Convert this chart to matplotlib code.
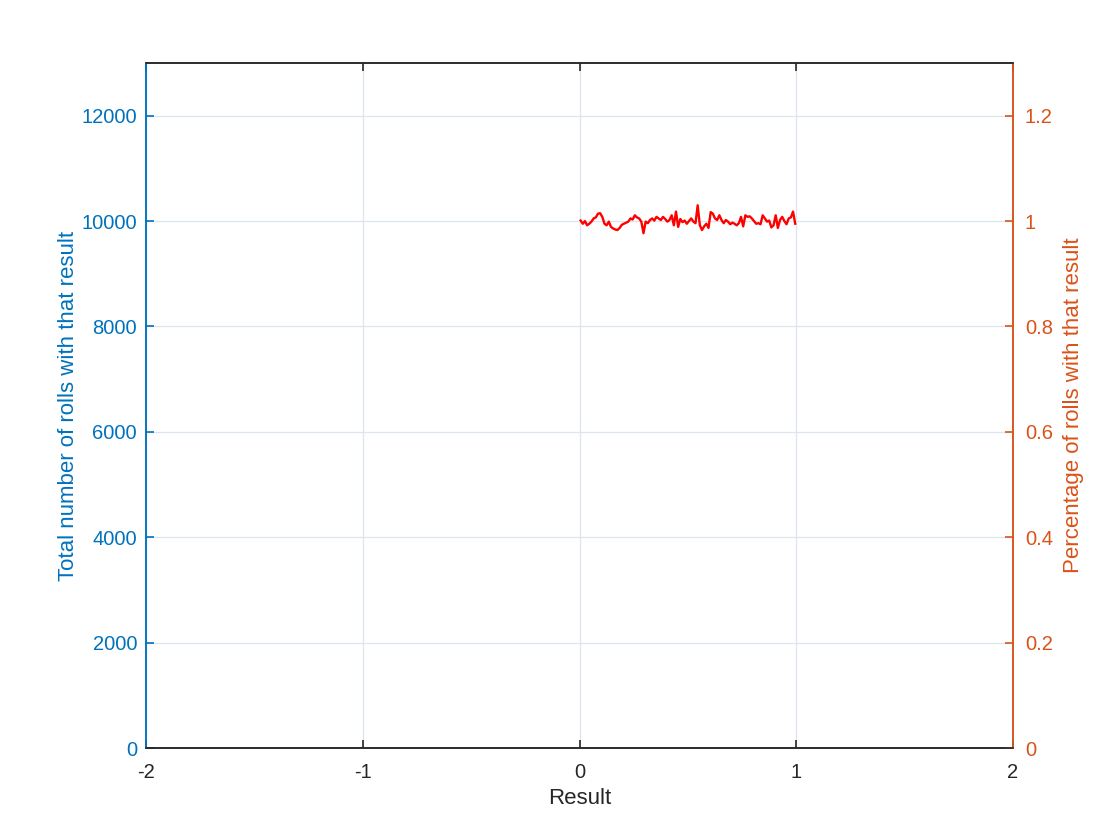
import numpy as np
from matplotlib import pyplot as plt

plt.rcParams['font.family'] = ['Liberation Sans', 'DejaVu Sans']

BLUE = '#0072BD'
ORANGE = '#D95319'

# bin centres of the histogram of results (100 bins on [0, 1])
result = np.linspace(0.005, 0.995, 100)

# number of rolls in each bin
counts = [
    10010, 9950, 10000, 9920, 9950, 9990, 10050, 10070, 10140, 10150,
    10080, 9950, 9920, 9990, 9890, 9860, 9840, 9830, 9870, 9930,
    9950, 9970, 9990, 10050, 10030, 10110, 10070, 10050, 9990, 9770,
    9990, 9960, 10020, 10050, 10010, 10080, 10050, 10020, 10080, 10040,
    9990, 10020, 10110, 9920, 10180, 9890, 10040, 9980, 10010, 9950,
    10000, 10050, 9990, 9960, 10300, 9920, 9830, 9900, 9950, 9870,
    10170, 10140, 10050, 10020, 10110, 10020, 9960, 10020, 9990, 9940,
    9970, 9950, 9920, 9960, 10080, 9900, 10110, 10080, 10090, 10050,
    10000, 9950, 9960, 9940, 10110, 10050, 9990, 10010, 9880, 9920,
    10110, 9870, 10020, 10080, 10000, 9940, 10050, 10070, 10180, 9950,
]

x_ticks = [-2, -1, 0, 1, 2]
left_ticks = [0, 2000, 4000, 6000, 8000, 10000, 12000]
right_ticks = [0, 0.2, 0.4, 0.6, 0.8, 1, 1.2]
right_labels = ['0', '0.2', '0.4', '0.6', '0.8', '1', '1.2']


def main():
    fig = plt.figure(figsize=(11.2, 8.4), dpi=100)
    ax = fig.add_axes([0.1304, 0.1095, 0.7741, 0.8155])
    ax2 = ax.twinx()

    ax.plot(result, counts, c='#ff0000', lw=1.7, zorder=3)

    ax.set_xlim(-2, 2)
    ax.set_ylim(0, 13000)
    ax2.set_ylim(0, 1.3)
    ax.set_xticks(x_ticks)
    ax.set_xticklabels([str(t) for t in x_ticks])
    ax.set_yticks(left_ticks)
    ax2.set_yticks(right_ticks)
    ax2.set_yticklabels(right_labels)

    ax.grid(True, color='#dce4ee', lw=0.9)
    ax.set_axisbelow(True)

    ax.tick_params(axis='x', direction='in', top=True, length=6, width=1.2,
                   labelsize=14.5, colors='#262626', pad=11)
    ax.tick_params(axis='y', direction='in', length=6, width=1.2,
                   labelsize=14.5, colors=BLUE, pad=6.5)
    ax2.tick_params(axis='y', direction='in', length=6, width=1.2,
                    labelsize=14.5, colors=ORANGE, pad=8.5)

    for a in (ax, ax2):
        a.spines['top'].set_color('#262626')
        a.spines['bottom'].set_color('#262626')
        a.spines['left'].set_color(BLUE)
        a.spines['right'].set_color(ORANGE)
        for s in a.spines.values():
            s.set_linewidth(1.1)

    ax.set_xlabel('Result', fontsize=16, color='#262626', labelpad=4)
    ax.set_ylabel('Total number of rolls with that result', fontsize=16,
                  color=BLUE, labelpad=2)
    ax2.set_ylabel('Percentage of rolls with that result', fontsize=16,
                   color=ORANGE, rotation=90, labelpad=7)

    fig.savefig('out.png', dpi=100)
    plt.close(fig)


if __name__ == "__main__":
    main()
